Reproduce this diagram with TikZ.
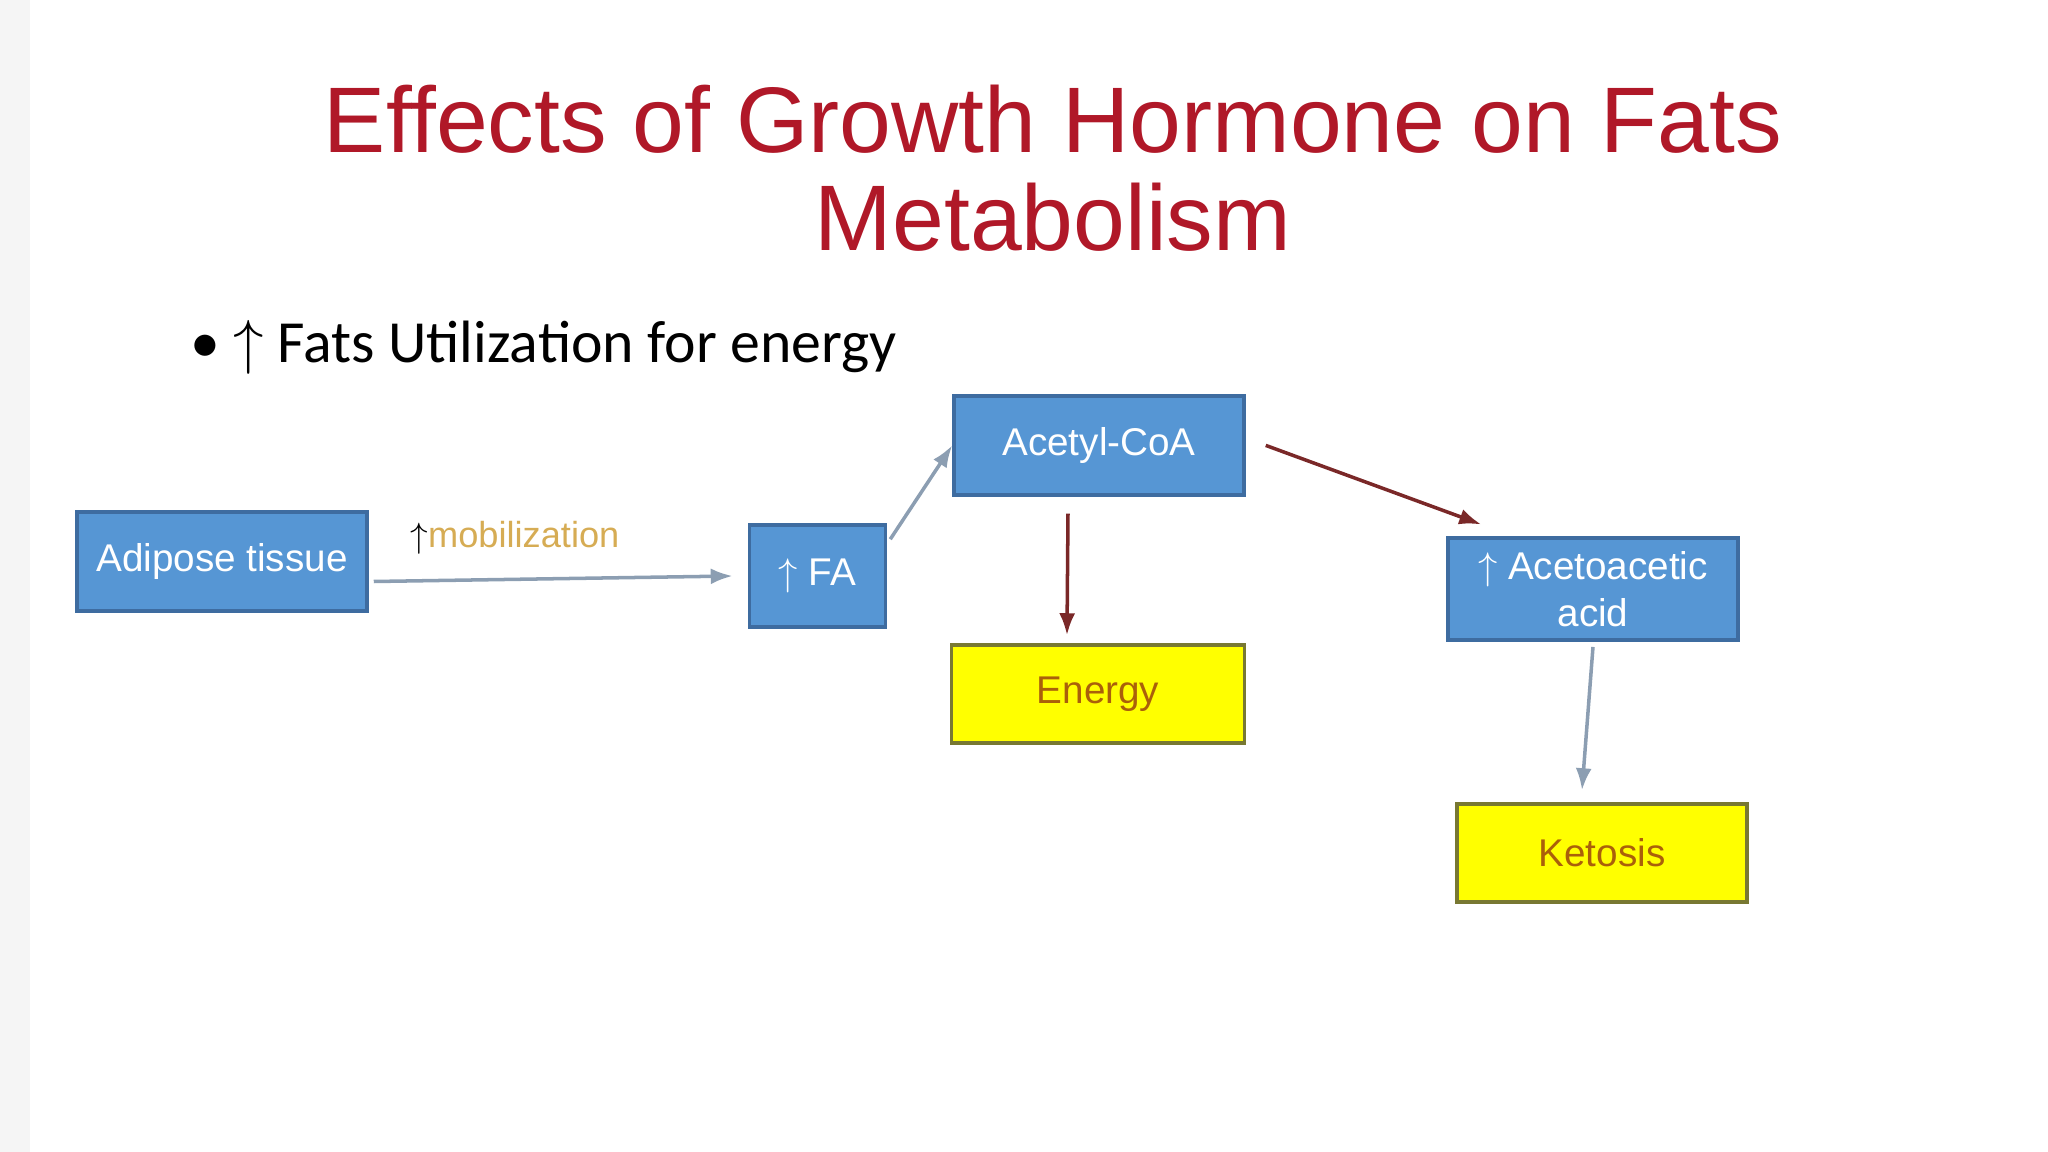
\documentclass[tikz,border=0pt]{standalone}
\usepackage{fontspec}
\setmainfont{Liberation Sans}
\newfontfamily\bodyfont{Carlito}
\usepackage{tikz}
\usetikzlibrary{arrows.meta}

\definecolor{titlered}{RGB}{176,24,40}
\definecolor{boxblue}{RGB}{86,150,212}
\definecolor{boxblueline}{RGB}{62,108,160}
\definecolor{boxyellow}{RGB}{255,255,0}
\definecolor{boxyellowline}{RGB}{120,120,50}
\definecolor{energytext}{RGB}{170,96,10}
\definecolor{mobgold}{RGB}{214,172,84}
\definecolor{linkblue}{RGB}{140,158,178}
\definecolor{linkred}{RGB}{122,40,40}

\begin{document}
\begin{tikzpicture}[
    >={Latex[length=2.2mm,width=1.6mm]},
    bluebox/.style={draw=boxblueline, fill=boxblue, line width=1pt, text=white, align=center, font=\fontsize{11}{13.5}\selectfont, minimum width=2.9cm, minimum height=0.99cm, inner sep=2pt},
    yellowbox/.style={draw=boxyellowline, fill=boxyellow, line width=1pt, text=energytext, align=center, font=\fontsize{11}{13.5}\selectfont, minimum width=2.9cm, minimum height=0.98cm},
    title/.style={text=titlered, align=center, font=\fontsize{26.5}{27.8}\selectfont},
    bluelink/.style={->, draw=linkblue, line width=1pt},
    redlink/.style={->, draw=linkred, line width=1pt}
  ]
    \useasboundingbox (0,0) rectangle (20.48,-11.52);
    \fill[black!4] (0,0) rectangle (0.3,-11.52);

    % Heading
    \node[title] (head) at (10.53,-1.68) {Effects of Growth Hormone on Fats\\Metabolism};
    \node[anchor=west, font=\bodyfont\fontsize{17}{20}\selectfont] (point) at (1.78,-3.47) {\textbullet\ $\uparrow$ Fats Utilization for energy};

    % Boxes
    \node[bluebox] (adipose) at (2.22,-5.615) {Adipose tissue};
    \node[bluebox, minimum width=1.36cm, minimum height=1.02cm] (fa) at (8.175,-5.76) {$\uparrow$ FA};
    \node[bluebox] (acetyl) at (10.99,-4.454) {Acetyl-CoA};
    \node[yellowbox, minimum width=2.93cm] (energy) at (10.98,-6.94) {Energy};
    \node[bluebox, minimum height=1.02cm] (aceto) at (15.93,-5.892) {$\uparrow$ Acetoacetic\\acid};
    \node[yellowbox] (ketosis) at (16.02,-8.53) {Ketosis};
    \node[text=mobgold, font=\fontsize{10.3}{12}\selectfont] (mob) at (5.15,-5.38) {\textcolor{black}{$\uparrow$}mobilization};

    % Links
    \draw[bluelink] ([xshift=0.5mm,yshift=-2mm]adipose.east) -- ([xshift=-1.5mm]fa.west);
    \draw[bluelink] ([xshift=0.3mm,yshift=-1.6mm]fa.north east) -- (acetyl.west);
    \draw[redlink] ([xshift=-3.1mm,yshift=-1.7mm]acetyl.south) -- ([xshift=-3.1mm,yshift=0.8mm]energy.north);
    \draw[redlink] ([xshift=2mm]acetyl.east) -- ([xshift=3.5mm,yshift=1.2mm]aceto.north west);
    \draw[bluelink] ([yshift=-0.5mm]aceto.south) -- ([xshift=-2mm,yshift=1.2mm]ketosis.north);
\end{tikzpicture}
\end{document}
